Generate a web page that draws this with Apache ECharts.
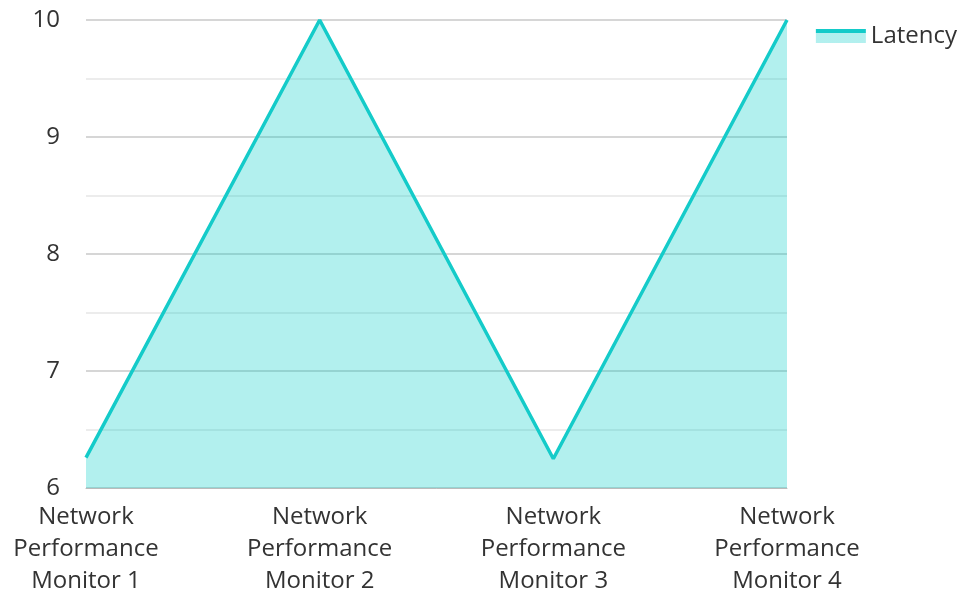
<!DOCTYPE html>
<html>
<head>
<meta charset="utf-8">
<script src="https://cdn.jsdelivr.net/npm/echarts@6/dist/echarts.min.js"></script>
<style>
  html, body { margin: 0; padding: 0; background: #fff; }
  #main { width: 963px; height: 594px; }
</style>
</head>
<body>
<div id="main"></div>
<script>
const categories = ['Network\nPerformance\nMonitor 1', 'Network\nPerformance\nMonitor 2', 'Network\nPerformance\nMonitor 3', 'Network\nPerformance\nMonitor 4']
const latency = [6.26, 10, 6.25, 10]
const yTicks = [6, 7, 8, 9, 10]

const chart = echarts.init(document.getElementById('main'))
const font = '"Open Sans", "Noto Sans", sans-serif'
const lineColor = '#14cbc9'
const fillColor = 'rgba(0, 204, 200, 0.3)'

const option = {
  animation: false,
  textStyle: { fontFamily: font },
  legend: {
    right: 1,
    top: 19,
    icon: 'rect',
    itemWidth: 50,
    itemHeight: 14,
    itemGap: 10,
    itemStyle: {
      // teal line on top, light fill below
      color: new echarts.graphic.LinearGradient(0, 0, 0, 1, [
        { offset: 0, color: lineColor },
        { offset: 0.28, color: lineColor },
        { offset: 0.28, color: fillColor },
        { offset: 1, color: fillColor }
      ])
    },
    textStyle: { fontSize: 24, color: '#333', fontFamily: font }
  },
  grid: { left: 86, right: 176, top: 20, bottom: 106, outerBoundsMode: 'none' },
  xAxis: {
    type: 'category',
    boundaryGap: false,
    data: categories,
    axisLine: { show: true, lineStyle: { color: '#bbb' } },
    axisTick: { show: false },
    axisLabel: {
      interval: 0,
      fontSize: 24,
      lineHeight: 32,
      color: '#333',
      margin: 13,
      fontFamily: font
    }
  },
  yAxis: {
    type: 'value',
    min: yTicks[0],
    max: yTicks[yTicks.length - 1],
    interval: 1,
    axisLine: { show: false },
    axisTick: { show: false },
    axisLabel: { fontSize: 24, color: '#333', margin: 26, fontFamily: font },
    splitLine: { lineStyle: { color: '#c8c8c8', width: 1.5 } },
    minorTick: { show: false, splitNumber: 2 },
    minorSplitLine: { show: true, lineStyle: { color: '#e6e6e6', width: 1.5 } }
  },
  series: [
    {
      name: 'Latency',
      type: 'line',
      data: latency,
      showSymbol: false,
      symbol: 'none',
      color: lineColor,
      lineStyle: { width: 3.5, color: lineColor },
      areaStyle: { color: fillColor, opacity: 1, origin: 'start' }
    }
  ]
}

chart.setOption(option)
</script>
</body>
</html>
